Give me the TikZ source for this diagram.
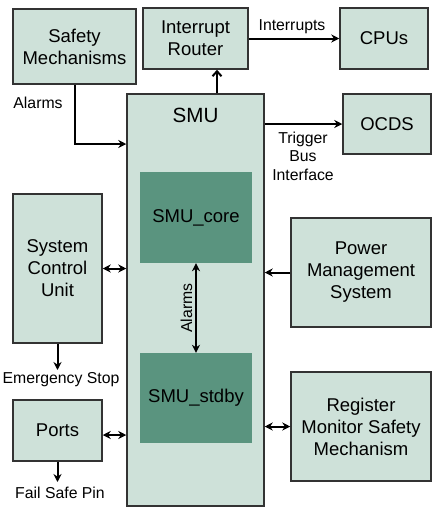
\documentclass[tikz,border=0pt]{standalone}
\usepackage{fontspec}
\setmainfont{Liberation Sans}
\usetikzlibrary{arrows.meta}
\definecolor{boxlight}{HTML}{CEE1D9}
\definecolor{boxdark}{HTML}{5A947F}
\definecolor{edgegray}{HTML}{333333}
\tikzset{
  lbox/.style={draw=edgegray, line width=1.5pt, fill=boxlight, inner sep=0pt, align=center,
    font=\fontsize{18.5}{22}\selectfont},
  dbox/.style={draw=none, fill=boxdark, inner sep=0pt, align=center,
    font=\fontsize{18.5}{22}\selectfont},
  lab/.style={inner sep=0pt, align=center, font=\fontsize{15.8}{18.5}\selectfont},
  arr/.style={line width=2pt, -{Stealth[length=8pt,width=8pt]}},
  darr/.style={line width=2pt, {Stealth[length=8pt,width=8pt]}-{Stealth[length=8pt,width=8pt]}},
  oarr/.style={line width=2pt, -{Straight Barb[length=5pt,width=9pt,line width=2pt]}}
}
\begin{document}
\begin{tikzpicture}[x=1pt,y=-1pt]
\useasboundingbox (0,0) rectangle (437,515);
% boxes
\node[lbox, minimum width=123pt, minimum height=75pt] (sm) at (74.5,46.5) {Safety\\Mechanisms};
\node[lbox, minimum width=105pt, minimum height=61pt] (ir) at (195.5,38.5) {Interrupt\\Router};
\node[lbox, minimum width=88pt, minimum height=61pt] (cpus) at (384,38.5) {CPUs};
\node[lbox, minimum width=137pt, minimum height=412pt] (smu) at (195.5,300) {};
\node[inner sep=0pt, font=\fontsize{20.6}{24}\selectfont] (smut) at (195.5,115) {SMU};
\node[lbox, minimum width=88pt, minimum height=60pt] (ocds) at (387,124) {OCDS};
\node[dbox, minimum width=112pt, minimum height=91pt] (core) at (196,217.5) {SMU\_core};
\node[dbox, minimum width=112pt, minimum height=90pt] (stdby) at (196,398) {SMU\_stdby};
\node[lbox, minimum width=89pt, minimum height=149pt] (scu) at (57.5,268.5) {System\\Control\\Unit};
\node[lbox, minimum width=89pt, minimum height=61pt] (ports) at (57.5,430.5) {Ports};
\node[lbox, minimum width=140pt, minimum height=109pt] (pms) at (361,272.5) {Power\\Management\\System};
\node[lbox, minimum width=140pt, minimum height=109pt] (rmsm) at (361,426.5) {Register\\Monitor Safety\\Mechanism};
% helper coordinates
\coordinate (alarmin) at (127,144);
\coordinate (irx) at (217,0);
\coordinate (porty) at (0,435);
\coordinate (estop) at (57.5,370);
\coordinate (fsp) at (57.5,482);
% connectors
\draw[arr] (sm.south) |- (smu.west |- alarmin);
\node[lab] (alarmsl) at (38,103) {Alarms};
\draw[oarr] (smu.north -| irx) -- (ir.south -| irx);
\draw[arr] (ir.east) -- (cpus.west);
\node[lab] (intl) at (292,27) {Interrupts};
\draw[arr] (smu.east |- ocds.west) -- (ocds.west);
\node[lab] (tbi) at (303,156) {Trigger\\Bus\\Interface};
\draw[darr] (core.south) -- (stdby.north);
\node[lab, rotate=90] (alarms2) at (186.5,308) {Alarms};
\draw[darr] (scu.east) -- (smu.west |- scu.east);
\draw[arr] (scu.south) -- (estop);
\node[lab] (estopl) at (61,380) {Emergency Stop};
\draw[darr] (ports.east |- porty) -- (smu.west |- porty);
\draw[arr] (ports.south) -- (fsp);
\node[lab] (fspl) at (60,492.7) {Fail Safe Pin};
\draw[arr] (pms.west) -- (smu.east |- pms.west);
\draw[darr] (rmsm.west) -- (smu.east |- rmsm.west);
\end{tikzpicture}
\end{document}
